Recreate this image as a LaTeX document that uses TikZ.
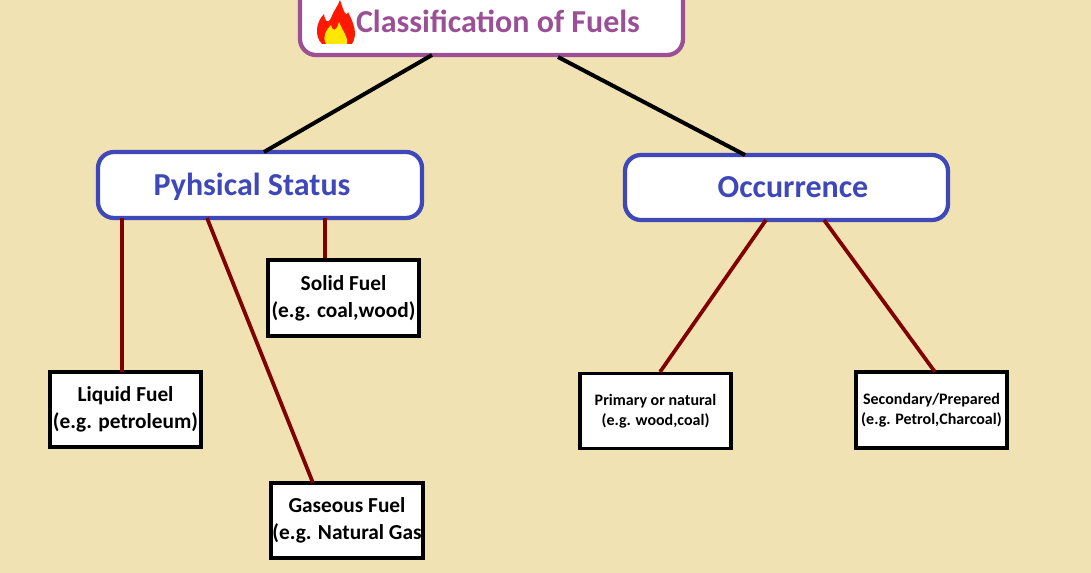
\documentclass[tikz,border=0pt]{standalone}
\usepackage{fontspec}
\setmainfont{Carlito}
\begin{document}
\begin{tikzpicture}[x=0.75pt,y=-0.75pt,
  head/.style={draw=#1,line width=3.2pt,fill=white,rounded corners=12pt},
  leaf/.style={draw=black,line width=2.4pt,fill=white,align=center,inner sep=1pt},
  red/.style={draw=red!50!black,line width=2.8pt},
  blk/.style={draw=black,line width=3pt}]
\fill[fill={rgb,255:red,240;green,226;blue,178}] (0,0) rectangle (1091,573);
\useasboundingbox (0,0) rectangle (1091,573);
\definecolor{pur}{RGB}{155,80,150}
\definecolor{blu}{RGB}{63,72,184}
% title
\draw[head=pur] (300,-15) rectangle (683,55);
\node[text=pur,font=\bfseries\fontsize{24}{28}\selectfont] (t) at (498,21) {Classification of Fuels};
% flame
\fill[red!80!orange] (322,44) .. controls (314,36) and (316,22) .. (324,14) .. controls (325,22) and (328,24) .. (331,18) .. controls (334,10) and (338,6) .. (340,0) .. controls (344,12) and (346,18) .. (348,12) .. controls (354,24) and (358,34) .. (352,44) -- cycle;
\fill[yellow!90!orange] (326,44) .. controls (322,36) and (326,30) .. (331,25) .. controls (333,32) and (336,32) .. (339,22) .. controls (343,32) and (348,36) .. (347,44) -- cycle;
% heads
\draw[head=blu] (98,152) rectangle (422,218);
\node[text=blu,font=\bfseries\fontsize{24}{28}\selectfont] (p) at (252,187) {Pyhsical Status};
\draw[head=blu] (625,155) rectangle (948,220);
\node[text=blu,font=\bfseries\fontsize{24}{28}\selectfont] (o) at (793,187) {Occurrence};
\coordinate (t1) at (432,55); \coordinate (p1) at (264,152);
\coordinate (t2) at (558,57); \coordinate (o1) at (745,155);
\draw[blk] (t1) -- (p1);
\draw[blk] (t2) -- (o1);
% leaves
\node[leaf,minimum width=151*0.75pt,minimum height=76*0.75pt,font=\bfseries\fontsize{16}{20}\selectfont] (s) at (343.5,298) {Solid Fuel\\(e.g. coal,wood)};
\node[leaf,minimum width=151*0.75pt,minimum height=75*0.75pt,font=\bfseries\fontsize{16}{20}\selectfont] (l) at (125.5,409.5) {Liquid Fuel\\(e.g. petroleum)};
\node[leaf,minimum width=152*0.75pt,minimum height=75*0.75pt,font=\bfseries\fontsize{16}{20}\selectfont] (g) at (347,520.5) {Gaseous Fuel\\(e.g. Natural Gas};
\node[leaf,minimum width=151*0.75pt,minimum height=75*0.75pt,font=\bfseries\fontsize{12}{15}\selectfont] (pr) at (655.5,411) {Primary or natural\\(e.g. wood,coal)};
\node[leaf,minimum width=151*0.75pt,minimum height=76*0.75pt,font=\bfseries\fontsize{12}{15}\selectfont] (se) at (931.5,410) {Secondary/Prepared\\(e.g. Petrol,Charcoal)};
\coordinate (a1) at (122,218); \coordinate (a2) at (207,218); \coordinate (a3) at (325,218);
\coordinate (b1) at (766,220); \coordinate (b2) at (824,220);
\draw[red] (a1) -- (122,372);
\draw[red] (a2) -- (313,483);
\draw[red] (a3) -- (s.north -| a3);
\draw[red] (b1) -- (660,372);
\draw[red] (b2) -- (935,372);
\end{tikzpicture}
\end{document}
